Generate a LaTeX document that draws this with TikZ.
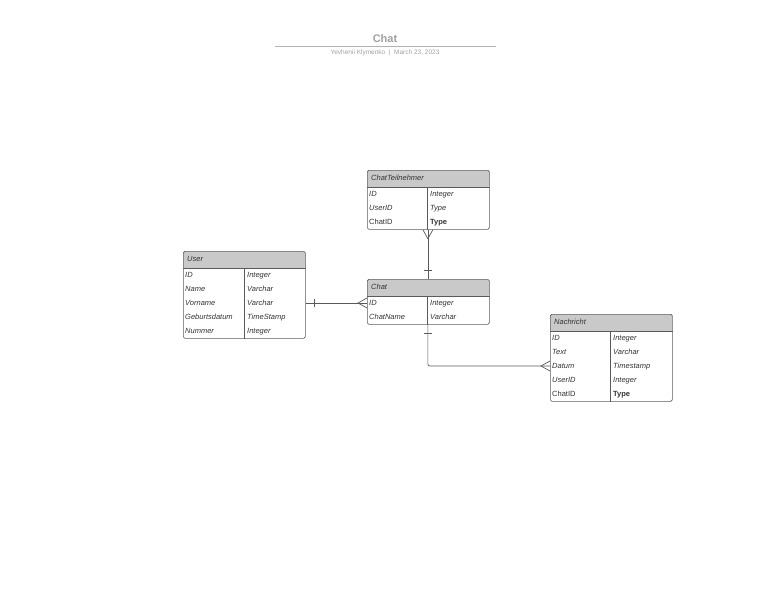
\documentclass[tikz,border=0pt]{standalone}
\usepackage{fontspec}
\setmainfont{Liberation Sans}
\usetikzlibrary{positioning}
\definecolor{hdrgray}{HTML}{C9C9C9}
\definecolor{boxline}{HTML}{5A5A5A}
\definecolor{titlegray}{HTML}{A0A0A0}
\definecolor{celltext}{HTML}{333333}

\tikzset{
  tblbox/.style={draw=boxline, line width=0.7pt, rounded corners=1.5pt, minimum width=122pt,
    inner sep=0pt, anchor=north west,
    path picture={\fill[hdrgray] (path picture bounding box.north west)
      rectangle ([yshift=-17pt]path picture bounding box.north east);}},
  cell/.style={anchor=west, inner sep=0pt, text=celltext, text height=5.5pt, text depth=1.5pt,
    font=\fontsize{7.5}{8}\selectfont\itshape},
  keycell/.style={cell, font=\fontsize{7.5}{8}\selectfont},
  rel/.style={draw=boxline, line width=0.7pt},
}

\begin{document}
\begin{tikzpicture}[x=1pt,y=-1pt]
    \useasboundingbox (0,0) rectangle (768,594);
    % title
    \node[text=titlegray, font=\fontsize{11}{12}\selectfont\bfseries] (title) at (385,39) {Chat};
    \draw[titlegray!80, line width=0.7pt] (275,46) -- (496,46);
    \node[text=titlegray, font=\fontsize{6.5}{7}\selectfont] (subtitle) at (385,53)
      {Yevhenii Klymenko \ | \ March 23, 2023};

    % ChatTeilnehmer
    \node[tblbox, minimum height=59pt] (teilnehmer) at (367,170) {};
    \node[cell] at ([xshift=4pt,yshift=-8.5pt]teilnehmer.north west) {ChatTeilnehmer};
    \draw[rel] ([yshift=-17pt]teilnehmer.north west) -- ([yshift=-17pt]teilnehmer.north east);
    \draw[rel] ([xshift=60pt,yshift=-17pt]teilnehmer.north west) -- ([xshift=60pt]teilnehmer.south west);
    \foreach \n/\t [count=\i] in {ID/Integer, UserID/Type} {
      \node[cell] (teilnehmer-\i) at ([xshift=2pt,yshift=-10pt-14pt*\i]teilnehmer.north west) {\n};
      \node[cell] at ([xshift=63pt,yshift=-10pt-14pt*\i]teilnehmer.north west) {\t};
    }
    \node[keycell] (teilnehmer-3) at ([xshift=2pt,yshift=-52pt]teilnehmer.north west) {ChatID};
    \node[keycell, font=\fontsize{7.5}{8}\selectfont\bfseries] at ([xshift=63pt,yshift=-52pt]teilnehmer.north west) {Type};

    % User
    \node[tblbox, minimum height=87pt] (user) at (183,251) {};
    \node[cell] at ([xshift=4pt,yshift=-8.5pt]user.north west) {User};
    \draw[rel] ([yshift=-17pt]user.north west) -- ([yshift=-17pt]user.north east);
    \draw[rel] ([xshift=61pt,yshift=-17pt]user.north west) -- ([xshift=61pt]user.south west);
    \foreach \n/\t [count=\i] in {ID/Integer, Name/Varchar, Vorname/Varchar,
        Geburtsdatum/TimeStamp, Nummer/Integer} {
      \node[cell] (user-\i) at ([xshift=2pt,yshift=-10pt-14pt*\i]user.north west) {\n};
      \node[cell] at ([xshift=64pt,yshift=-10pt-14pt*\i]user.north west) {\t};
    }

    % Chat
    \node[tblbox, minimum height=45pt] (chat) at (367,279) {};
    \node[cell] at ([xshift=4pt,yshift=-8.5pt]chat.north west) {Chat};
    \draw[rel] ([yshift=-17pt]chat.north west) -- ([yshift=-17pt]chat.north east);
    \draw[rel] ([xshift=60pt,yshift=-17pt]chat.north west) -- ([xshift=60pt]chat.south west);
    \foreach \n/\t [count=\i] in {ID/Integer, ChatName/Varchar} {
      \node[cell] (chat-\i) at ([xshift=2pt,yshift=-10pt-14pt*\i]chat.north west) {\n};
      \node[cell] at ([xshift=63pt,yshift=-10pt-14pt*\i]chat.north west) {\t};
    }

    % Nachricht
    \node[tblbox, minimum height=87pt] (nachricht) at (550,314) {};
    \node[cell] at ([xshift=4pt,yshift=-8.5pt]nachricht.north west) {Nachricht};
    \draw[rel] ([yshift=-17pt]nachricht.north west) -- ([yshift=-17pt]nachricht.north east);
    \draw[rel] ([xshift=60pt,yshift=-17pt]nachricht.north west) -- ([xshift=60pt]nachricht.south west);
    \foreach \n/\t [count=\i] in {ID/Integer, Text/Varchar, Datum/Timestamp, UserID/Integer} {
      \node[cell] (nachricht-\i) at ([xshift=2pt,yshift=-10pt-14pt*\i]nachricht.north west) {\n};
      \node[cell] at ([xshift=63pt,yshift=-10pt-14pt*\i]nachricht.north west) {\t};
    }
    \node[keycell] (nachricht-5) at ([xshift=2pt,yshift=-80pt]nachricht.north west) {ChatID};
    \node[keycell, font=\fontsize{7.5}{8}\selectfont\bfseries] at ([xshift=63pt,yshift=-80pt]nachricht.north west) {Type};

    % ChatTeilnehmer -- Chat
    \coordinate (tc) at ([xshift=-0.5pt]teilnehmer.south);
    \coordinate (ct) at (tc |- chat.north);
    \draw[rel] (tc) -- (ct);
    \draw[rel] ([xshift=-5pt]tc) -- ([yshift=-9pt]tc) -- ([xshift=5pt]tc);
    \draw[rel] ([xshift=-4pt,yshift=9pt]ct) -- ([xshift=4pt,yshift=9pt]ct);

    % User -- Chat
    \coordinate (uc) at (user.east |- chat-1);
    \coordinate (cu) at (chat.west |- chat-1);
    \draw[rel] (uc) -- (cu);
    \draw[rel] ([xshift=9pt,yshift=4pt]uc) -- ([xshift=9pt,yshift=-4pt]uc);
    \draw[rel] ([yshift=5pt]cu) -- ([xshift=-9pt]cu) -- ([yshift=-5pt]cu);

    % Chat -- Nachricht
    \coordinate (cn) at (tc |- chat.south);
    \coordinate (nc) at (nachricht.west |- nachricht-3);
    \draw[rel, rounded corners=2pt] (cn) |- (nc);
    \draw[rel] ([xshift=-4pt,yshift=-9pt]cn) -- ([xshift=4pt,yshift=-9pt]cn);
    \draw[rel] ([yshift=5pt]nc) -- ([xshift=-9pt]nc) -- ([yshift=-5pt]nc);
\end{tikzpicture}
\end{document}
